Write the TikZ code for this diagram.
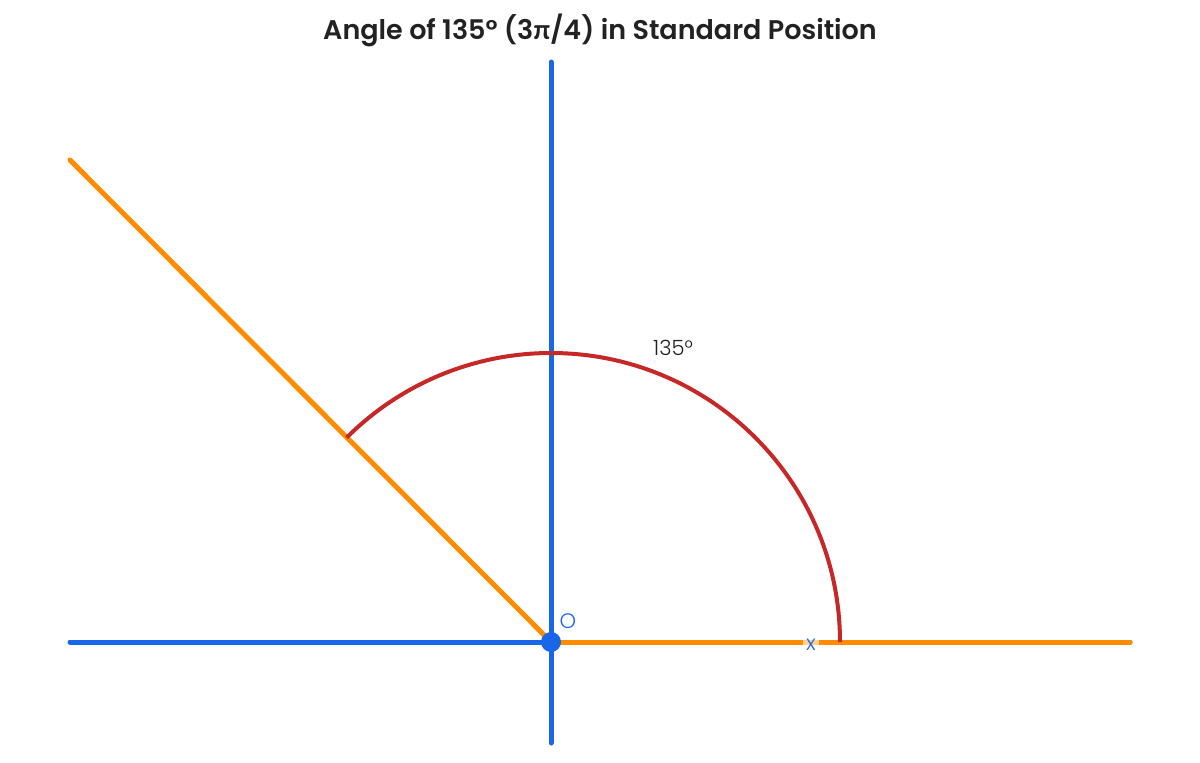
\documentclass[tikz,border=0pt]{standalone}
\usepackage{fontspec}
\setmainfont{Poppins}[BoldFont={Poppins SemiBold}]
\newfontfamily\lightfont{Poppins Light}
\newfontfamily\greekfont{Lato}
\definecolor{axisblue}{HTML}{1A66E8}
\definecolor{rayorange}{HTML}{FF8C00}
\definecolor{arcred}{HTML}{C62828}
\definecolor{titlegray}{HTML}{222222}
\begin{document}
\begin{tikzpicture}[x=1pt,y=-1pt,
  axis/.style={draw=axisblue,line width=5pt,line cap=round},
  ray/.style={draw=rayorange,line width=5pt,line cap=round},
  anglearc/.style={draw=arcred,line width=4pt},
  lbl/.style={font=\lightfont\fontsize{21}{24}\selectfont,text=axisblue,inner sep=1pt}]
\useasboundingbox[fill=white] (0,0) rectangle (1200,763);
\node[font=\fontsize{27}{32}\selectfont\bfseries,text=titlegray] (title) at (600,30) {Angle of 135° (3{\greekfont π}/4) in Standard Position};
\coordinate (O) at (551,642);
\coordinate (xl) at (70,642);
\coordinate (xr) at (1130,642);
\coordinate (yt) at (551,62);
\coordinate (yb) at (551,743);
\coordinate (rend) at (70,160);
\draw[axis] (xl) -- (xr);
\draw[axis] (yt) -- (yb);
\draw[ray] (O) -- (xr);
\draw[ray] (O) -- (rend);
\fill[axisblue] (O) circle (10);
\draw[anglearc] (840,642) arc[start angle=0,end angle=-135,radius=289];
\node[lbl,font=\lightfont\fontsize{21}{24}\selectfont,fill=white,fill opacity=0.6,text opacity=1,inner xsep=3pt,inner ysep=0pt] (xlab) at (811,645) {x};
\node[lbl] (olab) at (568,621) {O};
\node[font=\lightfont\fontsize{21}{24}\selectfont,text=titlegray] (alab) at (673,348) {135°};
\end{tikzpicture}
\end{document}
